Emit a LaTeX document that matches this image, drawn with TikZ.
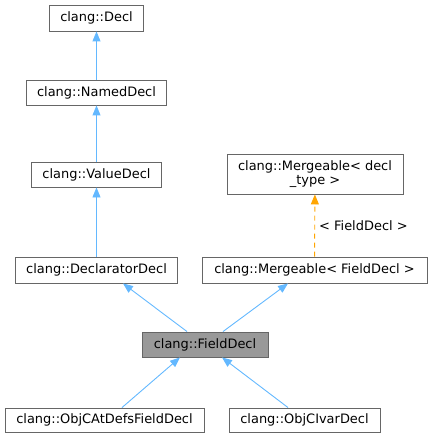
\documentclass[tikz,border=0pt]{standalone}
\usepackage{fontspec}
\setmainfont{DejaVu Sans}
\usetikzlibrary{arrows.meta}
\definecolor{edgeblue}{HTML}{63B8FF}
\definecolor{edgeorange}{HTML}{FFA500}
\definecolor{boxgray}{HTML}{666666}
\definecolor{fillgray}{HTML}{999999}
\tikzset{
  cls/.style={draw=boxgray, line width=0.9bp, fill=white, inner sep=0pt, font=\fontsize{13}{14.5}\selectfont, align=center},
  inh/.style={draw=edgeblue, line width=0.9bp, -{Triangle[length=10bp,width=8bp]}},
  tmpl/.style={draw=edgeorange, line width=0.9bp, dashed, dash pattern=on 5bp off 4bp, -{Triangle[length=10bp,width=8bp]}},
  lbl/.style={font=\fontsize{13}{14.5}\selectfont, inner sep=0pt}
}
\begin{document}
\begin{tikzpicture}[x=1bp,y=-1bp]
\useasboundingbox (0,0) rectangle (432,437);
\node[cls, minimum width=94bp, minimum height=26bp] (decl) at (96.5,18) {clang::Decl};
\node[cls, minimum width=140bp, minimum height=25bp] (named) at (96.5,92.5) {clang::NamedDecl};
\node[cls, minimum width=130bp, minimum height=25bp] (value) at (96.5,174.5) {clang::ValueDecl};
\node[cls, minimum width=162bp, minimum height=26bp] (dd) at (96.5,270) {clang::DeclaratorDecl};
\node[cls, minimum width=176bp, minimum height=40bp] (mdt) at (315,174) {clang::Mergeable< decl\\\_type >};
\node[cls, minimum width=225bp, minimum height=26bp] (mfd) at (314.5,270) {clang::Mergeable< FieldDecl >};
\node[cls, fill=fillgray, minimum width=126bp, minimum height=25bp] (fd) at (205,344.5) {clang::FieldDecl};
\node[cls, minimum width=199bp, minimum height=24bp] (atdefs) at (104.5,420) {clang::ObjCAtDefsFieldDecl};
\node[cls, minimum width=151bp, minimum height=24bp] (ivar) at (304.5,420) {clang::ObjCIvarDecl};
\draw[inh] (named) -- (decl);
\draw[inh] (value) -- (named);
\draw[inh] (dd) -- (value);
\draw[tmpl] (mfd) -- (mdt) node[lbl, pos=0.5, anchor=west, xshift=4bp] (tl) {< FieldDecl >};
\draw[inh] ([xshift=-18bp]fd.north) -- ([xshift=26.5bp]dd.south);
\draw[inh] ([xshift=18bp]fd.north) -- ([xshift=-26.5bp]mfd.south);
\draw[inh] ([xshift=17.5bp]atdefs.north) -- ([xshift=-25bp]fd.south);
\draw[inh] ([xshift=-16.5bp]ivar.north) -- ([xshift=17bp]fd.south);
\end{tikzpicture}
\end{document}
